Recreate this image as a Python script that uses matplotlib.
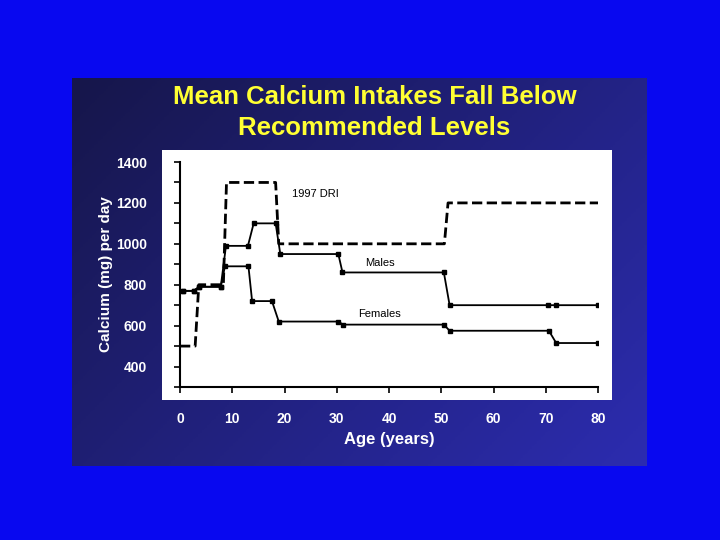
import numpy as np
import matplotlib.pyplot as plt
from matplotlib.patches import Rectangle

# DRI (dashed)
dri_age = [0, 2.9, 3.6, 8.3, 8.9, 18.3, 18.9, 50.6, 51.3, 80]
dri_val = [500, 500, 800, 800, 1300, 1300, 1000, 1000, 1200, 1200]

# males
m_age = [0.6, 2.6, 3.7, 7.8, 8.8, 13.0, 14.1, 18.3, 19.2, 30.3, 31.1, 50.5, 51.6, 70.5, 71.9, 80]
m_val = [770, 770, 790, 790, 990, 990, 1100, 1100, 950, 950, 860, 860, 700, 700, 700, 700]

# females
f_age = [0.6, 2.6, 3.7, 7.8, 8.6, 13.1, 13.8, 17.6, 18.9, 30.3, 31.2, 50.5, 51.6, 70.6, 72.0, 80]
f_val = [770, 770, 790, 790, 890, 890, 720, 720, 620, 620, 605, 605, 575, 575, 515, 515]

fig = plt.figure(figsize=(7.2, 5.4), dpi=100)
fig.patch.set_facecolor('#0808f0')

# dark gradient panel
bg = fig.add_axes([72/720, 1-466/540, 575/720, 388/540])
grad = np.linspace(0, 1, 256)
gx, gy = np.meshgrid(grad, grad)
g = (gx * 0.6 + gy * 0.4)
cmap = plt.matplotlib.colors.LinearSegmentedColormap.from_list('p', ['#16164a', '#2c2cb0'])
bg.imshow(g, cmap=cmap, aspect='auto', extent=[0, 1, 0, 1], origin='upper')
bg.set_axis_off()
bg.add_patch(Rectangle(((162-72)/575, (466-400)/388), 450/575, 250/388,
                       facecolor='white', edgecolor='none'))
bg.set_xlim(0, 1); bg.set_ylim(0, 1)

fig.text(0.52, 1-97/540, "Mean Calcium Intakes Fall Below", color='#ffff33',
         fontsize=18.5, fontweight='bold', ha='center', va='center', family='Liberation Sans')
fig.text(0.52, 1-128/540, "Recommended Levels", color='#ffff33',
         fontsize=18.5, fontweight='bold', ha='center', va='center', family='Liberation Sans')

ax = fig.add_axes([180/720, 1-387/540, 418/720, 225/540])
ax.set_facecolor('none')
ax.plot(dri_age, dri_val, color='black', ls='--', lw=2)
ax.plot(m_age, m_val, color='black', lw=1.3, marker='s', ms=3)
ax.plot(f_age, f_val, color='black', lw=1.3, marker='s', ms=3)

ax.set_xlim(0, 80)
ax.set_ylim(300, 1400)
ax.set_xticks(range(0, 81, 10))
ax.set_yticks(range(400, 1401, 200))
ax.set_yticks(range(300, 1401, 100), minor=True)
for s in ['top', 'right']:
    ax.spines[s].set_visible(False)
ax.spines['left'].set_linewidth(1.5)
ax.spines['bottom'].set_linewidth(1.5)
ax.tick_params(which='both', direction='out', length=4, width=1.2, color='black',
               labelcolor='white', labelsize=10)
for lab in ax.get_xticklabels() + ax.get_yticklabels():
    lab.set_fontweight('bold')
    lab.set_family('Liberation Sans')
ax.tick_params(axis='x', pad=14)
ax.tick_params(axis='y', pad=20)

ax.text(21.5, 1230, "1997 DRI", fontsize=8, family='Liberation Sans')
ax.text(35.5, 890, "Males", fontsize=8, family='Liberation Sans')
ax.text(34, 640, "Females", fontsize=8, family='Liberation Sans')

ax.set_xlabel("Age (years)", color='white', fontsize=12, fontweight='bold',
              family='Liberation Sans', labelpad=4)
ax.set_ylabel("Calcium (mg) per day", color='white', fontsize=11, fontweight='bold',
              family='Liberation Sans', labelpad=2)

fig.savefig('out.png', dpi=100, facecolor=fig.get_facecolor())
